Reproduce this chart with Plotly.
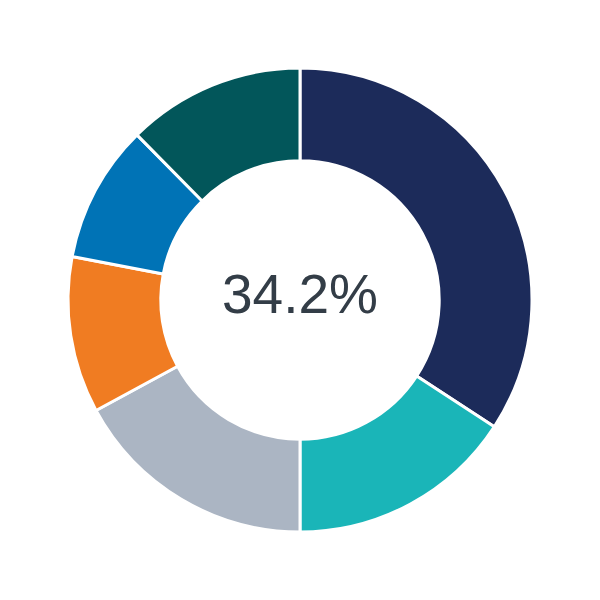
import plotly.graph_objects as go

labels = ['A', 'B', 'C', 'D', 'E', 'F']
values = [34.2, 15.8, 17.1, 10.9, 9.6, 12.4]
colors = ['#1c2b5a', '#1ab5b8', '#abb5c3', '#f07c22', '#0073b6', '#02565a']
center_text = '34.2%'

fig = go.Figure(go.Pie(
    labels=labels,
    values=values,
    hole=0.6,
    sort=False,
    direction='clockwise',
    rotation=0,
    marker=dict(colors=colors, line=dict(color='white', width=3)),
    textinfo='none',
    hoverinfo='label+percent',
))

# page body adds an 8px offset, so the margins are shifted to keep the ring centred
fig.update_layout(
    width=600,
    height=600,
    showlegend=False,
    paper_bgcolor='white',
    margin=dict(l=60, r=76, t=60, b=76),
    annotations=[dict(
        text=center_text, x=0.5, y=0.5, xref='paper', yref='paper',
        showarrow=False, yshift=6,
        font=dict(family='Liberation Sans, Arial', size=55, color='#333d47'),
    )],
)

fig.write_html("out.html")
